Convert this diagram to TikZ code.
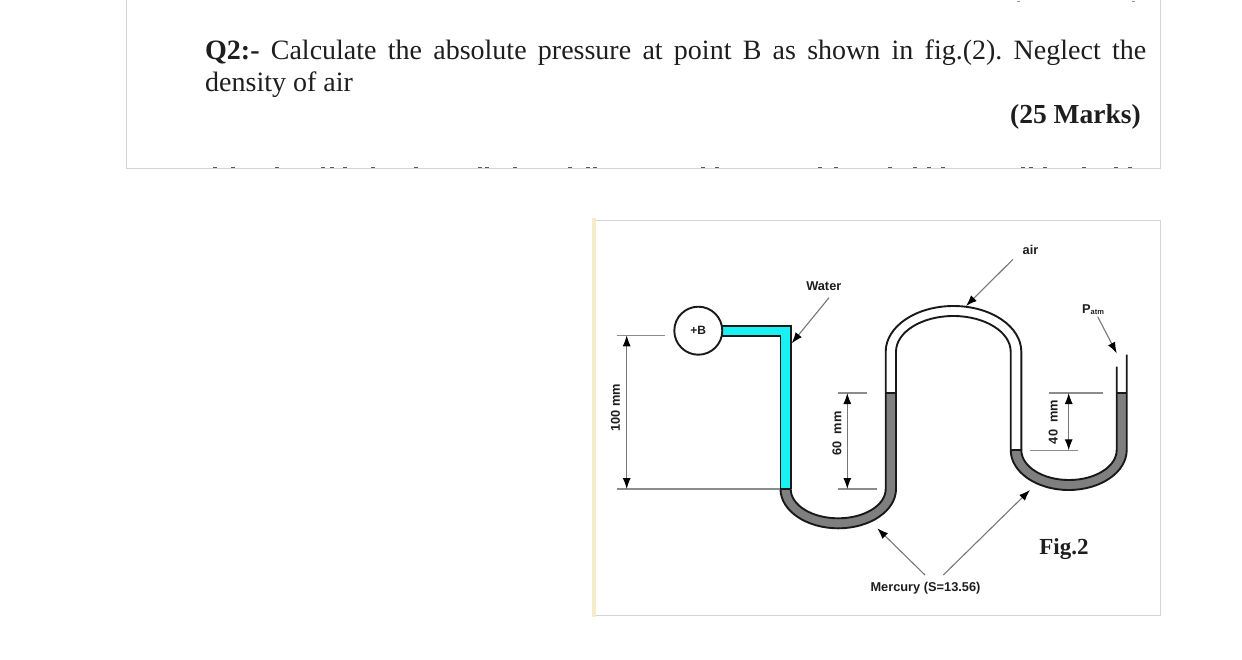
\documentclass[tikz,border=0pt]{standalone}
\usepackage{fontspec}
\setmainfont{Liberation Serif}
\newfontfamily\arialf{Liberation Sans}
\usetikzlibrary{arrows.meta}
\definecolor{waterc}{HTML}{19F0F2}
\definecolor{mercc}{HTML}{7F7F7F}
\definecolor{dimc}{HTML}{8C8C8C}
\definecolor{framec}{HTML}{D4D4D4}
\definecolor{creamc}{HTML}{F5EDC8}
\definecolor{inkc}{HTML}{1E1E1E}
\tikzset{
  x=1pt,y=1pt,
  wall/.style={draw=black!90,line width=1.9pt},
  dimtick/.style={draw=dimc,line width=1.1pt},
  dimline/.style={draw=dimc!85!black,line width=1.1pt,{Latex[length=11pt,width=8pt,color=black]}-{Latex[length=11pt,width=8pt,color=black]}},
  leader/.style={draw=dimc!85!black,line width=1.1pt,-{Latex[length=11pt,width=8pt,color=black]}},
  lab/.style={font=\arialf\bfseries\fontsize{12.8}{14}\selectfont,text=inkc,inner sep=0pt},
  para/.style={font=\fontsize{28}{32}\selectfont,text=inkc,inner sep=0pt,anchor=base west},
  frameline/.style={draw=framec,line width=1pt},
  residue/.style={draw=black!65,line width=1pt}
}
\begin{document}
\frenchspacing
\begin{tikzpicture}
\useasboundingbox (0,0) rectangle (1242,-659);
% question frame
\draw[frameline] (126.5,0) -- (126.5,-168) -- (1160.5,-168) -- (1160.5,0);
% cut-off remains of the neighbouring lines
\foreach \px in {215,233,277,323,332,345,373,416,480,487,515,570,588,595,703,717,820,836,890,915,929,943,1023,1031,1045,1084,1116,1130}
  \draw[residue] (\px-2,-167.3) -- (\px+2,-167.3);
\foreach \px in {1018,1133}
  \draw[residue,draw=black!40] (\px-1.5,-1) -- (\px+1.5,-1);
% figure frame
\fill[creamc] (592,-218) rectangle (596,-617);
\draw[frameline] (596,-220.5) -- (1160.5,-220.5) -- (1160.5,-615.5) -- (596,-615.5);
% question text
\node[para] (qline) at (205,-59.5) {\makebox[941pt][s]{\textbf{Q2:-} Calculate the absolute pressure at point B as shown in fig.(2). Neglect the}};
\node[para] (qline2) at (205,-91.7) {density of air};
\node[para,anchor=base east,font=\bfseries\fontsize{27.5}{32}\selectfont] (marks) at (1141,-123.5) {(25 Marks)};
% water
\fill[waterc] (722,-325.7) -- (790.7,-325.7) -- (790.7,-489) -- (780.5,-489) -- (780.5,-335.7) -- (722,-335.7) -- cycle;
\draw[wall] (722,-325.7) -- (790.7,-325.7) -- (790.7,-489);
\draw[wall] (722,-335.7) -- (780.5,-335.7) -- (780.5,-489);
% mercury first U
\fill[mercc] (780.5,-489) arc[start angle=180,end angle=360,x radius=57.75,y radius=39.3] -- (896,-393) -- (885.7,-393) -- (885.7,-489) arc[start angle=0,end angle=-180,x radius=47.5,y radius=29.3] -- cycle;
\draw[wall] (780.5,-489) arc[start angle=180,end angle=360,x radius=57.75,y radius=39.3] -- (896,-393);
\draw[wall] (790.7,-489) arc[start angle=180,end angle=360,x radius=47.5,y radius=29.3] -- (885.7,-393);
\draw[wall] (780.5,-489) -- (790.7,-489);
\draw[wall] (885.7,-393) -- (896,-393);
% mercury second U
\fill[mercc] (1010.7,-450) arc[start angle=180,end angle=360,x radius=58,y radius=40] -- (1126.7,-393) -- (1116.7,-393) -- (1116.7,-450) arc[start angle=0,end angle=-180,x radius=47.7,y radius=30] -- cycle;
\draw[wall] (1010.7,-450) arc[start angle=180,end angle=360,x radius=58,y radius=40] -- (1126.7,-354.5);
\draw[wall] (1021.3,-450) arc[start angle=180,end angle=360,x radius=47.7,y radius=30] -- (1116.7,-366.7);
\draw[wall] (1010.7,-450) -- (1021.3,-450);
\draw[wall] (1116.7,-393) -- (1126.7,-393);
% air arch
\draw[wall] (885.7,-393) -- (885.7,-351.7) arc[start angle=180,end angle=0,x radius=67.8,y radius=45.7] -- (1021.3,-450);
\draw[wall] (896,-393) -- (896,-351.7) arc[start angle=180,end angle=0,x radius=57.35,y radius=35.7] -- (1010.7,-450);
% point B
\node[circle,draw=black!90,line width=1.9pt,fill=white,minimum size=48pt,inner sep=0pt,font=\arialf\bfseries\fontsize{12}{14}\selectfont,text=inkc] (pb) at (698.3,-330.7) {+B};
% named ends
\coordinate (t1a) at (616.7,-335.3); \coordinate (t1b) at (665,-335.3);
\coordinate (t2a) at (616.7,-489); \coordinate (t2b) at (780,-489);
\coordinate (d1a) at (626.7,-335.3); \coordinate (d1b) at (626.7,-489);
\coordinate (t3a) at (838.3,-393); \coordinate (t3b) at (866.7,-393);
\coordinate (t4a) at (838.3,-489); \coordinate (t4b) at (876.7,-489);
\coordinate (d2a) at (847.3,-393); \coordinate (d2b) at (847.3,-489);
\coordinate (t5a) at (1049.3,-393); \coordinate (t5b) at (1102.7,-393);
\coordinate (t6a) at (1030,-450.3); \coordinate (t6b) at (1078.3,-450.3);
\coordinate (d3a) at (1068.7,-393); \coordinate (d3b) at (1068.7,-450.3);
\draw[dimtick] (t1a) -- (t1b);
\draw[dimtick] (t2a) -- (t2b);
\draw[dimline] (d1a) -- (d1b);
\draw[dimtick] (t3a) -- (t3b);
\draw[dimtick] (t4a) -- (t4b);
\draw[dimline] (d2a) -- (d2b);
\draw[dimtick] (t5a) -- (t5b);
\draw[dimtick] (t6a) -- (t6b);
\draw[dimline] (d3a) -- (d3b);
% labels
\node[lab,rotate=90] (l100) at (615.5,-407.5) {100 mm};
\node[lab,rotate=90] (l60) at (837,-433.5) {60\ \ mm};
\node[lab,rotate=90] (l40) at (1053.3,-422) {40\ \ mm};
\node[lab] (lwater) at (823.8,-286) {Water};
\node[lab] (lair) at (1030.5,-250) {air};
\node[lab] (lpatm) at (1093,-309.5) {P\raisebox{-1.5pt}{\fontsize{7.5}{8}\selectfont atm}};
\node[lab] (lmerc) at (925.5,-588.5) {Mercury (S=13.56)};
\node[inner sep=0pt,font=\bfseries\fontsize{23}{26}\selectfont,text=inkc] (lfig) at (1064,-549.5) {Fig.2};
% leaders
\coordinate (wtip) at (791.7,-343.3);
\coordinate (atip) at (966,-306);
\coordinate (ptip) at (1116.7,-353.3);
\coordinate (m1tip) at (877.3,-528.3);
\coordinate (m2tip) at (1030,-490);
\coordinate (ws) at (829,-297.7);
\coordinate (as) at (1013,-259.3);
\coordinate (ps) at (1097.7,-316.7);
\coordinate (m1s) at (925,-575);
\coordinate (m2s) at (943.3,-575);
\draw[leader] (ws) -- (wtip);
\draw[leader] (as) -- (atip);
\draw[leader] (ps) -- (ptip);
\draw[leader] (m1s) -- (m1tip);
\draw[leader] (m2s) -- (m2tip);
\end{tikzpicture}
\end{document}
